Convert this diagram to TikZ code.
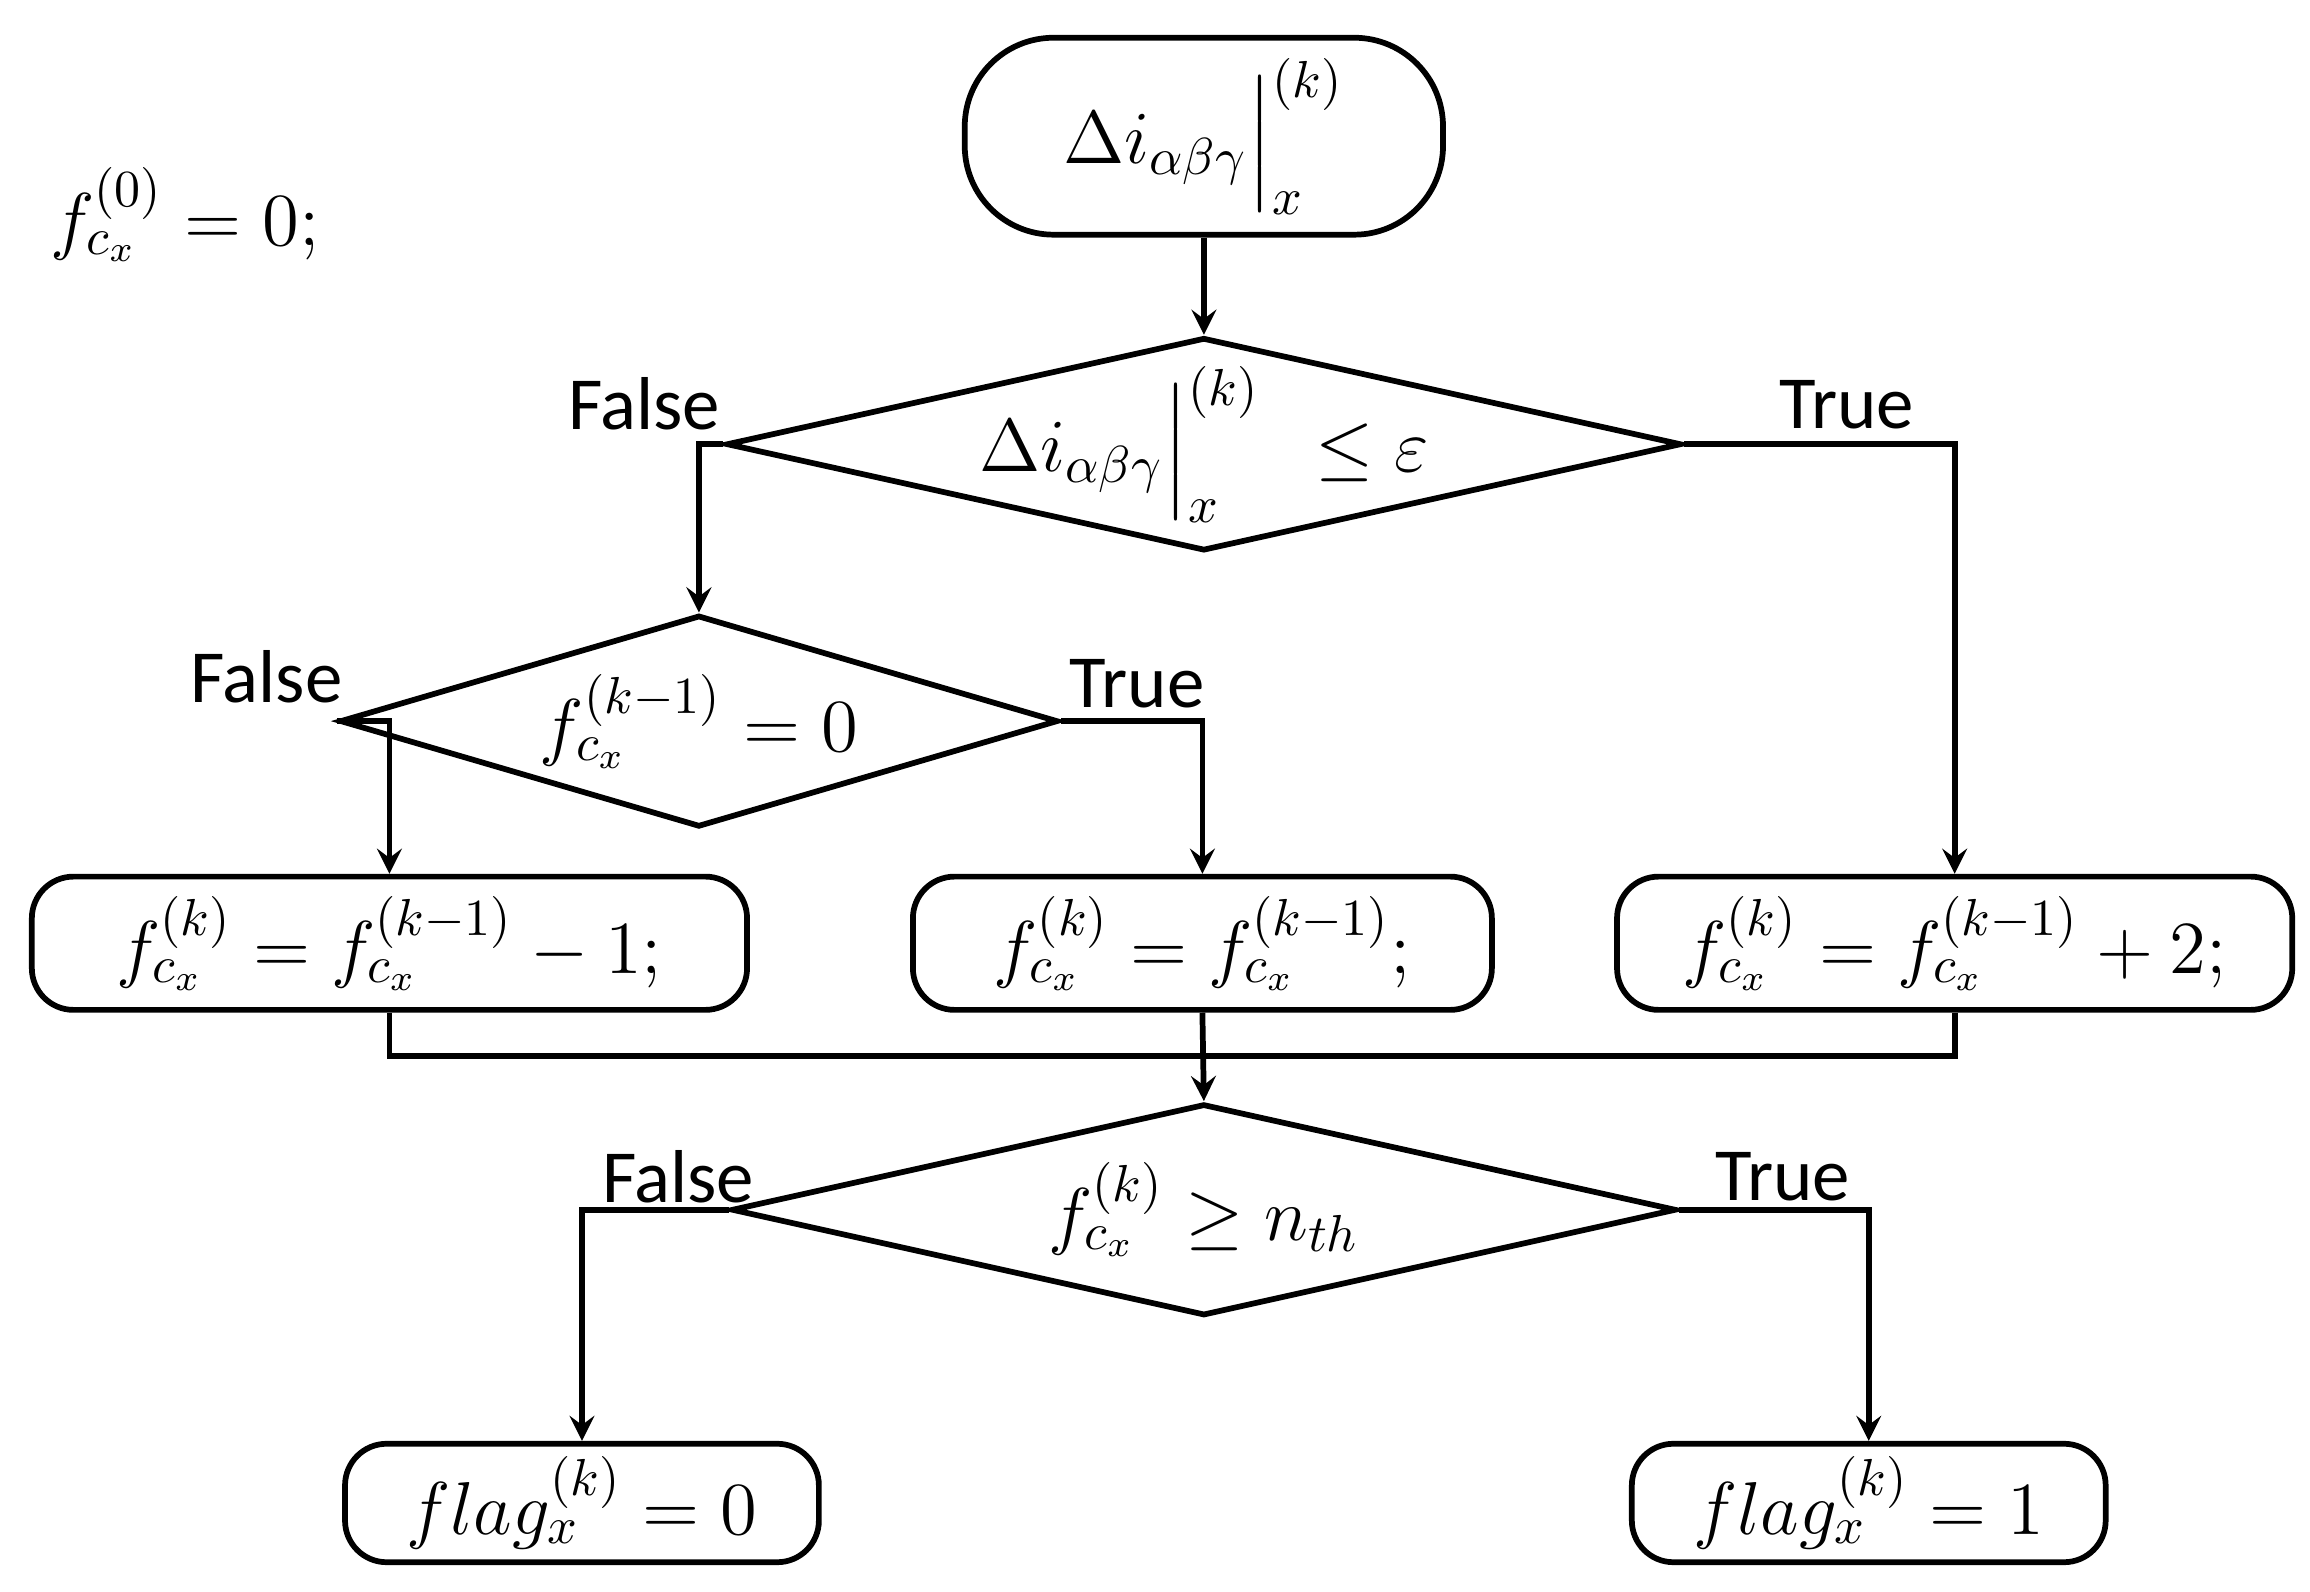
\documentclass[tikz,border=0pt]{standalone}
\usepackage{amsmath,amssymb}
\usepackage{fontspec}
\setmainfont{Carlito}
\usetikzlibrary{positioning,shapes,arrows,calc}

\begin{document}
\begin{tikzpicture}[>=stealth, line width=1.1pt,
  box/.style={draw,rounded corners=8pt,font=\Large,inner sep=2pt},
  cond/.style={draw,diamond,inner sep=0pt,aspect=4.4},
  txt/.style={font=\Large,inner sep=0pt},
  lbl/.style={font=\Large}]
  \useasboundingbox (0,0) rectangle (15.6,-10.75);
  % start and first test
  \node (start) at (8.13,-0.92) [box,rounded corners=0.6cm,minimum width=3.23cm,minimum height=1.33cm] {$\Delta i_{\alpha\beta\gamma}\Big|_x^{(k)}$};
  \node (dec1) at (8.13,-3.0) [cond,minimum width=6.45cm,minimum height=1.44cm] {};
  \node (dec1t) at (dec1) [txt] {$\Delta i_{\alpha\beta\gamma}\Big|_x^{(k)}\ \ \le\varepsilon$};
  \node (dec2) at (4.72,-4.87) [cond,aspect=3.4,minimum width=4.85cm,minimum height=1.43cm] {};
  \node (dec2t) at (dec2) [txt] {$f_{c_x}^{(k-1)}=0$};
  % update boxes
  \node (upd1) at (2.63,-6.37) [box,minimum width=4.83cm,minimum height=0.9cm] {$f_{c_x}^{(k)}=f_{c_x}^{(k-1)}-1;$};
  \node (upd2) at (8.12,-6.37) [box,minimum width=3.91cm,minimum height=0.9cm] {$f_{c_x}^{(k)}=f_{c_x}^{(k-1)};$};
  \node (upd3) at (13.2,-6.37) [box,minimum width=4.56cm,minimum height=0.9cm] {$f_{c_x}^{(k)}=f_{c_x}^{(k-1)}+2;$};
  \coordinate (merge) at (8.13,-7.13);
  % threshold test and outputs
  \node (dec3) at (8.13,-8.17) [cond,aspect=4.46,minimum width=6.38cm,minimum height=1.43cm] {};
  \node (dec3t) at (dec3) [txt] {$f_{c_x}^{(k)}\ge n_{th}$};
  \node (flag0) at (3.93,-10.15) [box,minimum width=3.2cm,minimum height=0.8cm] {$flag_x^{(k)}=0$};
  \node (flag1) at (12.62,-10.15) [box,minimum width=3.2cm,minimum height=0.8cm] {$flag_x^{(k)}=1$};
  \node (init) at (1.25,-1.45) [font=\Large] {$f_{c_x}^{(0)}=0;$};

  % connectors
  \draw[->] (start.south) -- (dec1.north);
  \draw[->] (dec1.west) -| (dec2.north);
  \draw[->] (dec1.east) -| (upd3.north);
  \draw[->] (dec2.west) -| (upd1.north);
  \draw[->] (dec2.east) -| (upd2.north);
  \draw (upd1.south) |- (merge);
  \draw (upd3.south) |- (merge);
  \draw[->] (upd2.south) -- (dec3.north);
  \draw[->] (dec3.west) -| (flag0.north);
  \draw[->] (dec3.east) -| (flag1.north);

  % branch labels
  \node (f1) at (4.35,-2.73) [lbl] {False};
  \node (t1) at (12.47,-2.73) [lbl] {True};
  \node (f2) at (1.8,-4.57) [lbl] {False};
  \node (t2) at (7.68,-4.62) [lbl] {True};
  \node (f3) at (4.58,-7.95) [lbl] {False};
  \node (t3) at (12.04,-7.95) [lbl] {True};
\end{tikzpicture}
\end{document}
